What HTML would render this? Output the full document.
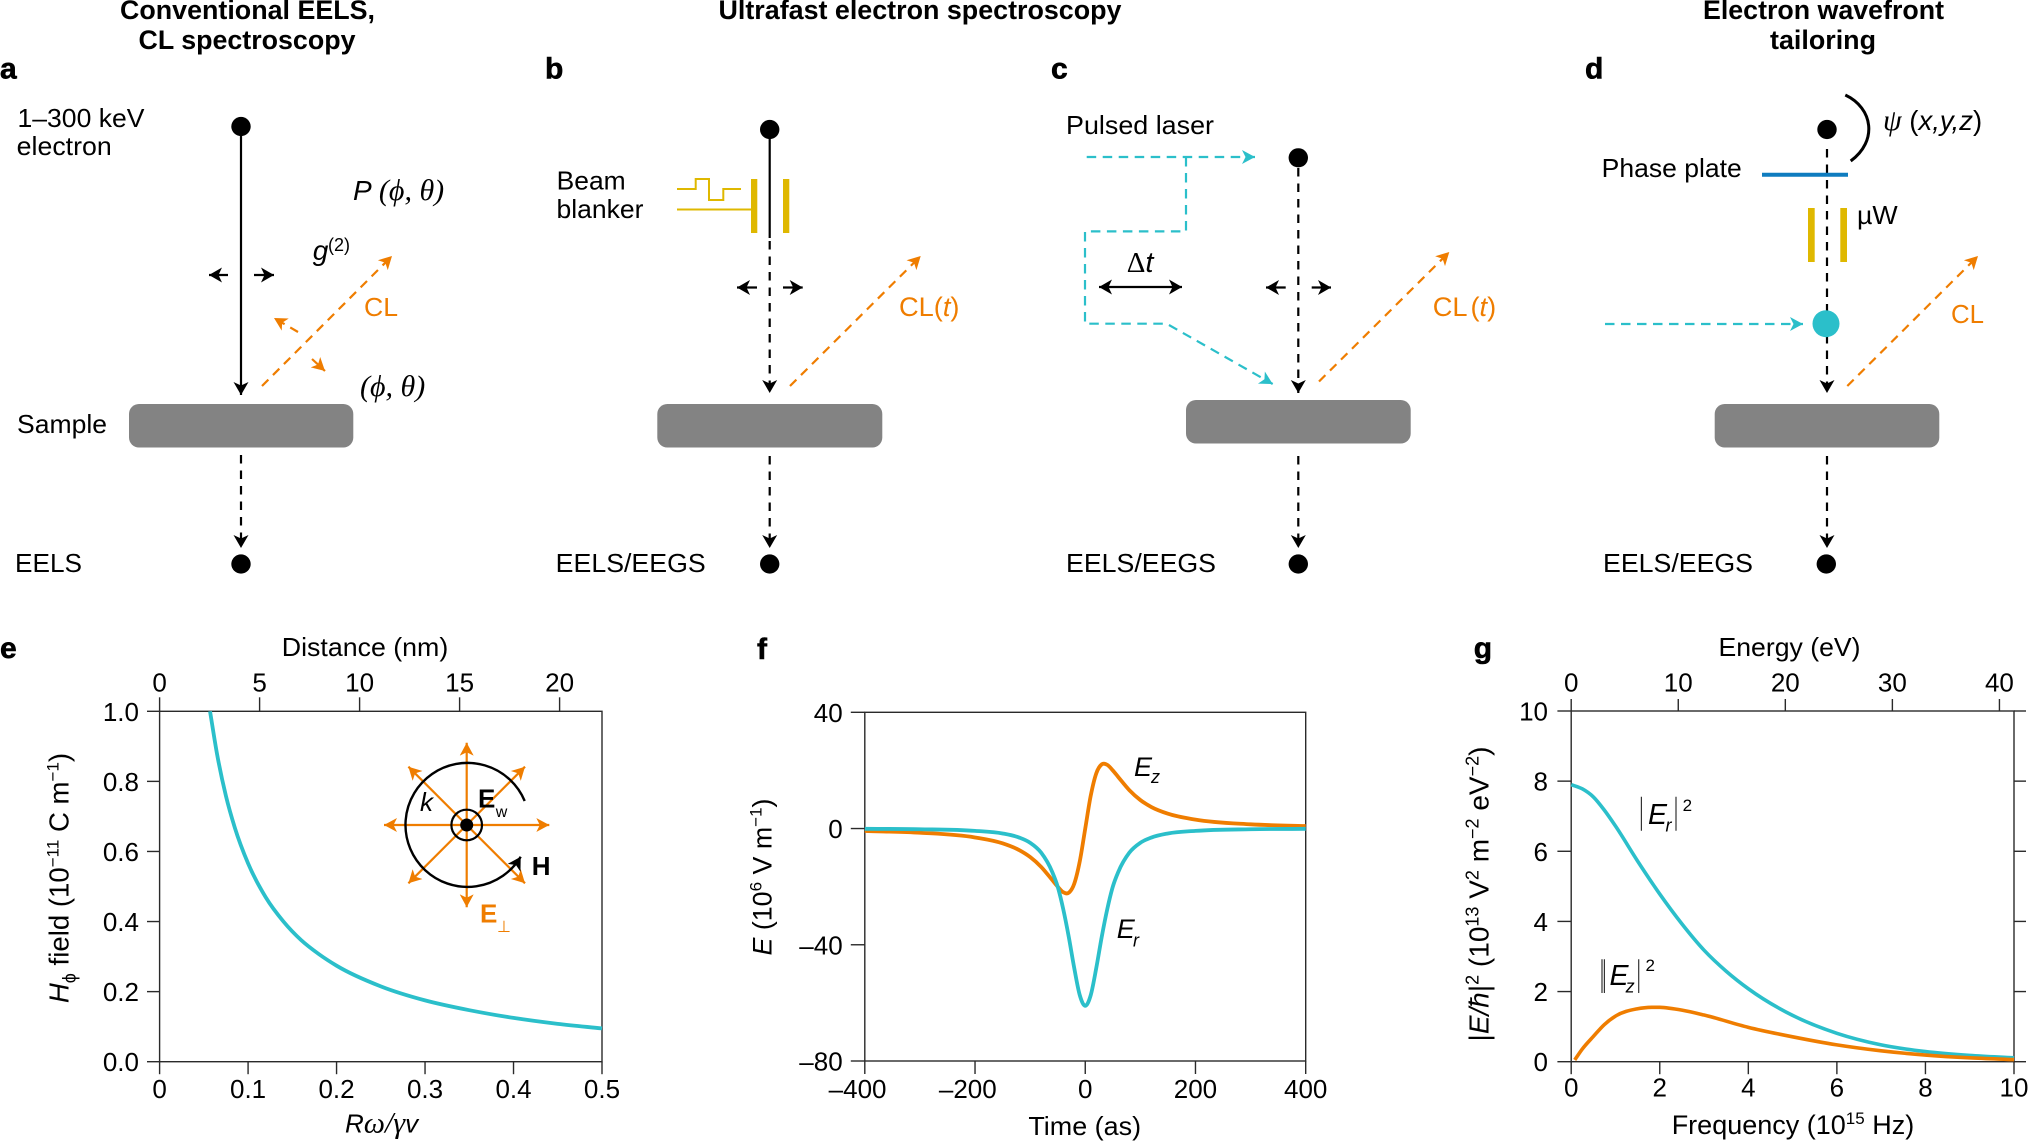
<!DOCTYPE html>
<html lang="en">
<head>
<meta charset="utf-8">
<title>Electron spectroscopy figure</title>
<style>
html,body{margin:0;padding:0;background:#fff;width:2028px;height:1141px;overflow:hidden}
svg{display:block}
text{font-family:"Liberation Sans",sans-serif;font-size:26px;fill:#000}
.ttl{font-weight:bold;font-size:26.5px;text-anchor:middle}
.let{font-weight:bold;font-size:30px;stroke:#000;stroke-width:.6}
.or{fill:#ef7d00}
.it{font-style:italic}
.ser{font-family:"Liberation Serif",serif;font-style:italic;font-size:30px}
.sub{font-size:16px}
.el{stroke:#000;stroke-width:2.2;fill:none}
.dash{stroke-dasharray:8.5 7}
.odash{stroke:#ef7d00;stroke-width:2.2;fill:none;stroke-dasharray:9 6.5}
.cdash{stroke:#2bbfca;stroke-width:2.2;fill:none;stroke-dasharray:9.5 6.5}
.samp{fill:#838383}
.yel{fill:#dfb800}
</style>
</head>
<body>
<svg id="figure" xmlns="http://www.w3.org/2000/svg" width="2028" height="1141" viewBox="0 0 2028 1141">
<defs>
<marker id="ahk" markerUnits="userSpaceOnUse" markerWidth="14" markerHeight="16" refX="13" refY="8" orient="auto-start-reverse"><path d="M13,8 L0,.5 L3.5,8 L0,15.5Z" fill="#000"/></marker>
<marker id="aho" markerUnits="userSpaceOnUse" markerWidth="14" markerHeight="16" refX="13" refY="8" orient="auto-start-reverse"><path d="M13,8 L0,1 L3.5,8 L0,15Z" fill="#ef7d00"/></marker>
<marker id="ahc" markerUnits="userSpaceOnUse" markerWidth="14" markerHeight="16" refX="13" refY="8" orient="auto-start-reverse"><path d="M13,8 L0,1 L3.5,8 L0,15Z" fill="#2bbfca"/></marker>
</defs>

<!-- Panel a -->
<g>
<text class="ttl" x="247.5" y="19" textLength="255" lengthAdjust="spacingAndGlyphs">Conventional EELS,</text>
<text class="ttl" x="247" y="49" textLength="217" lengthAdjust="spacingAndGlyphs">CL spectroscopy</text>
<text class="let" x="0" y="78.5">a</text>
<text x="17.5" y="127" textLength="127" lengthAdjust="spacingAndGlyphs">1–300 keV</text>
<text x="16.7" y="155" textLength="95" lengthAdjust="spacingAndGlyphs">electron</text>
<ellipse cx="241" cy="126.5" rx="9.7" ry="9.6"/>
<line class="el" x1="241" y1="130" x2="241" y2="395" marker-end="url(#ahk)"/>
<line class="el" x1="228" y1="275" x2="209" y2="275" marker-end="url(#ahk)"/>
<line class="el" x1="254" y1="275" x2="274" y2="275" marker-end="url(#ahk)"/>
<text x="353" y="200"><tspan class="it" font-size="28">P</tspan> <tspan class="ser">(ϕ, θ)</tspan></text>
<text x="312.7" y="260" class="it" font-size="28" style="font-size:28px">g</text>
<text x="328" y="251" style="font-size:18px">(2)</text>
<text x="364" y="316" class="or" textLength="34" lengthAdjust="spacingAndGlyphs">CL</text>
<text x="360" y="396" class="ser">(ϕ, θ)</text>
<line class="odash" x1="262" y1="386" x2="392" y2="256" marker-end="url(#aho)"/>
<line class="odash" x1="298" y1="332" x2="274" y2="318" marker-end="url(#aho)"/>
<line class="odash" x1="312" y1="359" x2="325" y2="371" marker-end="url(#aho)"/>
<rect class="samp" x="129" y="404" width="224.3" height="43.5" rx="10"/>
<text x="17" y="433" textLength="90" lengthAdjust="spacingAndGlyphs">Sample</text>
<line class="el dash" x1="241" y1="455" x2="241" y2="548" marker-end="url(#ahk)"/>
<ellipse cx="241" cy="564" rx="9.7" ry="9.6"/>
<text x="15" y="572" textLength="67" lengthAdjust="spacingAndGlyphs">EELS</text>
</g>

<!-- Panel b -->
<g>
<text class="ttl" x="920" y="19" textLength="403" lengthAdjust="spacingAndGlyphs">Ultrafast electron spectroscopy</text>
<text class="let" x="545" y="78.5">b</text>
<ellipse cx="769.7" cy="129.5" rx="9.7" ry="9.6"/>
<line class="el" x1="769.7" y1="133" x2="769.7" y2="238"/>
<line class="el dash" x1="769.7" y1="241" x2="769.7" y2="393" marker-end="url(#ahk)"/>
<rect class="yel" x="751" y="179" width="6.3" height="54"/>
<rect class="yel" x="783" y="179" width="6.3" height="54"/>
<path d="M677,189H695.7V179H709V200H723.3V189H741M677,209.5H751" fill="none" stroke="#dfb800" stroke-width="2"/>
<text x="556.7" y="189.5" textLength="69" lengthAdjust="spacingAndGlyphs">Beam</text>
<text x="556.5" y="218" textLength="87" lengthAdjust="spacingAndGlyphs">blanker</text>
<line class="el" x1="757" y1="287.5" x2="737" y2="287.5" marker-end="url(#ahk)"/>
<line class="el" x1="783" y1="287.5" x2="802.7" y2="287.5" marker-end="url(#ahk)"/>
<line class="odash" x1="790" y1="386" x2="920.7" y2="256" marker-end="url(#aho)"/>
<text x="899" y="316" class="or" style="font-size:27.2px">CL(<tspan class="it">t</tspan>)</text>
<rect class="samp" x="657.3" y="404" width="225" height="43.5" rx="10"/>
<line class="el dash" x1="769.7" y1="456" x2="769.7" y2="548" marker-end="url(#ahk)"/>
<ellipse cx="769.7" cy="564" rx="9.7" ry="9.6"/>
<text x="555.7" y="572" textLength="150" lengthAdjust="spacingAndGlyphs">EELS/EEGS</text>
</g>

<!-- Panel c -->
<g>
<text class="let" x="1051" y="78.5">c</text>
<text x="1066" y="134" textLength="148" lengthAdjust="spacingAndGlyphs">Pulsed laser</text>
<ellipse cx="1298.3" cy="157.8" rx="9.7" ry="9.6"/>
<line class="el dash" x1="1298.3" y1="168" x2="1298.3" y2="393" marker-end="url(#ahk)"/>
<line class="cdash" x1="1086.7" y1="157" x2="1255" y2="157" marker-end="url(#ahc)"/>
<path class="cdash" d="M1186,157V231.4H1085V323.7H1166.7L1272.7,384" marker-end="url(#ahc)"/>
<text x="1126.7" y="272" style="font-size:29px"><tspan font-family="Liberation Serif">Δ</tspan><tspan class="it">t</tspan></text>
<line class="el" x1="1099" y1="287" x2="1182" y2="287" marker-start="url(#ahk)" marker-end="url(#ahk)"/>
<line class="el" x1="1285.7" y1="287.5" x2="1266" y2="287.5" marker-end="url(#ahk)"/>
<line class="el" x1="1311.7" y1="287.5" x2="1331" y2="287.5" marker-end="url(#ahk)"/>
<line class="odash" x1="1319" y1="381.5" x2="1449.3" y2="252" marker-end="url(#aho)"/>
<text x="1432.7" y="316" class="or" style="font-size:27.2px">CL<tspan dx="3">(</tspan><tspan class="it">t</tspan>)</text>
<rect class="samp" x="1186" y="400" width="224.7" height="43.5" rx="10"/>
<line class="el dash" x1="1298.3" y1="456" x2="1298.3" y2="548" marker-end="url(#ahk)"/>
<ellipse cx="1298.3" cy="564" rx="9.7" ry="9.6"/>
<text x="1066" y="572" textLength="150" lengthAdjust="spacingAndGlyphs">EELS/EEGS</text>
</g>

<!-- Panel d -->
<g>
<text class="ttl" x="1823.5" y="19" textLength="241" lengthAdjust="spacingAndGlyphs">Electron wavefront</text>
<text class="ttl" x="1823" y="49" textLength="106" lengthAdjust="spacingAndGlyphs">tailoring</text>
<text class="let" x="1585" y="78.5">d</text>
<ellipse cx="1827" cy="129.5" rx="9.7" ry="9.6"/>
<line class="el dash" x1="1827" y1="149" x2="1827" y2="393" marker-end="url(#ahk)"/>
<path d="M1845.3,95C1873,108 1878,141 1850.7,161" fill="none" stroke="#000" stroke-width="3"/>
<text x="1883" y="130" style="font-size:27.5px"><tspan class="ser">ψ</tspan> <tspan>(</tspan><tspan class="it">x,y,z</tspan>)</text>
<text x="1601.7" y="177" textLength="140" lengthAdjust="spacingAndGlyphs">Phase plate</text>
<line x1="1762" y1="174.7" x2="1848" y2="174.7" stroke="#0f7cbf" stroke-width="4"/>
<rect class="yel" x="1808" y="208" width="6.7" height="54"/>
<rect class="yel" x="1840.3" y="208" width="6.7" height="54"/>
<text x="1857" y="224" textLength="40.7" lengthAdjust="spacingAndGlyphs">µW</text>
<line class="cdash" x1="1605" y1="324" x2="1803" y2="324" marker-end="url(#ahc)"/>
<ellipse cx="1826" cy="323.7" rx="13.5" ry="13.5" fill="#2bbfca"/>
<line class="odash" x1="1847.3" y1="386" x2="1978" y2="256" marker-end="url(#aho)"/>
<text x="1951" y="323" class="or" textLength="33" lengthAdjust="spacingAndGlyphs">CL</text>
<rect class="samp" x="1714.7" y="404" width="224.6" height="43.5" rx="10"/>
<line class="el dash" x1="1827" y1="456" x2="1827" y2="548" marker-end="url(#ahk)"/>
<ellipse cx="1826.3" cy="564" rx="9.7" ry="9.6"/>
<text x="1603" y="572" textLength="150" lengthAdjust="spacingAndGlyphs">EELS/EEGS</text>
</g>

<!-- Panel e -->
<g id="chart-e">
<text class="let" x="0" y="658">e</text>
<text x="365" y="656" text-anchor="middle" textLength="166.5" lengthAdjust="spacingAndGlyphs">Distance (nm)</text>
<text x="345" y="1132.7"><tspan class="it">R</tspan><tspan class="ser">ω/γ</tspan><tspan class="it">v</tspan></text>
<text transform="translate(68.6,878) rotate(-90)" text-anchor="middle" style="font-size:27.6px"><tspan class="it">H</tspan><tspan style="font-size:18px" dy="7">ϕ</tspan><tspan dy="-7"> field (10</tspan><tspan style="font-size:17px" dy="-10">−11</tspan><tspan dy="10"> C m</tspan><tspan style="font-size:17px" dy="-10">−1</tspan><tspan dy="10">)</tspan></text>
</g>

<!-- Panel e inset -->
<g id="inset-e">
<g stroke="#ef7d00" stroke-width="2.2">
<line x1="466.7" y1="825" x2="466.7" y2="742.7" marker-end="url(#aho)"/>
<line x1="466.7" y1="825" x2="466.7" y2="907.3" marker-end="url(#aho)"/>
<line x1="466.7" y1="825" x2="549.3" y2="825" marker-end="url(#aho)"/>
<line x1="466.7" y1="825" x2="384" y2="825" marker-end="url(#aho)"/>
<line x1="466.7" y1="825" x2="525" y2="766.7" marker-end="url(#aho)"/>
<line x1="466.7" y1="825" x2="408.4" y2="766.7" marker-end="url(#aho)"/>
<line x1="466.7" y1="825" x2="525" y2="883.3" marker-end="url(#aho)"/>
<line x1="466.7" y1="825" x2="408.4" y2="883.3" marker-end="url(#aho)"/>
</g>
<circle cx="466.7" cy="825" r="15.3" fill="none" stroke="#000" stroke-width="2.2"/>
<circle cx="466.7" cy="825" r="6.5"/>
<path d="M524.7,801A62,62 0 1 0 520.7,856.7" fill="none" stroke="#000" stroke-width="2.4" marker-end="url(#ahk)"/>
<text x="478" y="807.7" font-weight="bold">E</text>
<text x="495.7" y="817" class="sub">w</text>
<text x="420" y="811" class="it">k</text>
<text x="531.7" y="875" font-weight="bold">H</text>
<text x="480" y="922.7" font-weight="bold" class="or">E</text>
<text x="497" y="932" class="sub or">⊥</text>
</g>

<!-- Panel f -->
<g id="chart-f">
<text class="let" x="757" y="659">f</text>
<text x="1084.7" y="1135" text-anchor="middle" textLength="112.7" lengthAdjust="spacingAndGlyphs">Time (as)</text>
<text transform="translate(771.5,877) rotate(-90)" text-anchor="middle" style="font-size:26.8px"><tspan class="it">E</tspan> (10<tspan style="font-size:17px" dy="-10">6</tspan><tspan dy="10"> V m</tspan><tspan style="font-size:17px" dy="-10">−1</tspan><tspan dy="10">)</tspan></text>
<text x="1134" y="776" class="it" style="font-size:27px">E</text>
<text x="1151" y="783" class="it" style="font-size:18px">z</text>
<text x="1116.7" y="938" class="it" style="font-size:27px">E</text>
<text x="1133" y="946.7" class="it" style="font-size:18px">r</text>
</g>

<!-- Panel g -->
<g id="chart-g">
<text class="let" x="1473.7" y="658">g</text>
<text x="1789.5" y="656" text-anchor="middle" textLength="142" lengthAdjust="spacingAndGlyphs">Energy (eV)</text>
<text x="1671.7" y="1134" style="font-size:27px">Frequency (10<tspan style="font-size:17px" dy="-10">15</tspan><tspan dy="10"> Hz)</tspan></text>
<text transform="translate(1488.7,894) rotate(-90)" text-anchor="middle" style="font-size:28px">|<tspan class="it">E/ħ</tspan>|<tspan style="font-size:18px" dy="-10">2</tspan><tspan dy="10"> (10</tspan><tspan style="font-size:18px" dy="-10">13</tspan><tspan dy="10"> V</tspan><tspan style="font-size:18px" dy="-10">2</tspan><tspan dy="10"> m</tspan><tspan style="font-size:18px" dy="-10">−2</tspan><tspan dy="10"> eV</tspan><tspan style="font-size:18px" dy="-10">−2</tspan><tspan dy="10">)</tspan></text>
<path d="M1641.4,796.7V830.7M1676,796.7V830.7M1602,959.3V993M1604.4,959.3V993M1638.7,959.3V993" stroke="#333" stroke-width="1.2" fill="none"/>
<text x="1648" y="824" class="it" style="font-size:28.5px">E</text>
<text x="1665.5" y="831.7" class="it" style="font-size:18px">r</text>
<text x="1682.6" y="811" style="font-size:17px">2</text>
<text x="1609.5" y="985" class="it" style="font-size:28.5px">E</text>
<text x="1625.6" y="992.5" class="it" style="font-size:18px">z</text>
<text x="1645.5" y="971" style="font-size:17px">2</text>
</g>
</svg>

<script>
/* Panel e data */
const eBottomTicks = [0, 0.1, 0.2, 0.3, 0.4, 0.5];
const eBottomLabels = ['0', '0.1', '0.2', '0.3', '0.4', '0.5'];
const eTopTicks = [0, 5, 10, 15, 20];
const eTopLabels = ['0', '5', '10', '15', '20'];
const eLeftTicks = [0, 0.2, 0.4, 0.6, 0.8, 1.0];
const eLeftLabels = ['0.0', '0.2', '0.4', '0.6', '0.8', '1.0'];
const eCurveU = [0.057, 0.065, 0.075, 0.085, 0.1, 0.12, 0.14, 0.16, 0.18, 0.2, 0.25, 0.3, 0.35, 0.4, 0.45, 0.5];
const eCurveH = [1.0, 0.877, 0.758, 0.668, 0.566, 0.469, 0.40, 0.347, 0.307, 0.274, 0.215, 0.175, 0.147, 0.125, 0.108, 0.095];

/* Panel f data */
const fBottomTicks = [-400, -200, 0, 200, 400];
const fBottomLabels = ['–400', '–200', '0', '200', '400'];
const fLeftTicks = [-80, -40, 0, 40];
const fLeftLabels = ['–80', '–40', '0', '40'];
const fTime = [-400, -300, -200, -150, -120, -100, -80, -60, -50, -40, -30, -20, -10, 0, 10, 20, 30, 40, 50, 60, 80, 100, 120, 150, 200, 300, 400];
const fEr = [-0.1, -0.24, -0.8, -1.7, -3.1, -4.9, -8.3, -14.9, -20, -27.7, -37.2, -48, -57.3, -61, -57.3, -48, -37.2, -27.7, -20, -14.9, -8.3, -4.9, -3.1, -1.7, -0.8, -0.24, -0.1];
const fEz = [-0.85, -1.45, -3.07, -5.1, -7.4, -9.8, -13.2, -17.7, -20, -21.9, -22.1, -19, -11.35, 0, 11.35, 19, 22.1, 21.9, 20, 17.7, 13.2, 9.8, 7.4, 5.1, 3.07, 1.45, 0.85];

/* Panel g data */
const gBottomTicks = [0, 2, 4, 6, 8, 10];
const gBottomLabels = ['0', '2', '4', '6', '8', '10'];
const gTopTicks = [0, 10, 20, 30, 40];
const gTopLabels = ['0', '10', '20', '30', '40'];
const gLeftTicks = [0, 2, 4, 6, 8, 10];
const gLeftLabels = ['0', '2', '4', '6', '8', '10'];
const gFreq = [0, 0.25, 0.5, 0.75, 1, 1.5, 2, 2.5, 3, 3.5, 4, 5, 6, 7, 8, 9, 10];
const gEr = [7.9, 7.78, 7.55, 7.17, 6.72, 5.72, 4.78, 3.93, 3.18, 2.58, 2.08, 1.32, 0.81, 0.48, 0.29, 0.18, 0.11];
const gFreqZ = [0.08, 0.25, 0.5, 0.75, 1, 1.5, 2, 2.5, 3, 4, 5, 6, 7, 8, 9, 10];
const gEz = [0.05, 0.36, 0.72, 1.06, 1.3, 1.51, 1.55, 1.47, 1.33, 0.98, 0.71, 0.48, 0.31, 0.19, 0.11, 0.06];

const NS = 'http://www.w3.org/2000/svg';

function make(tag, attrs, parent, text) {
  const el = document.createElementNS(NS, tag);
  for (const k in attrs) el.setAttribute(k, attrs[k]);
  if (text !== undefined) el.textContent = text;
  parent.appendChild(el);
  return el;
}

function linear(d0, d1, r0, r1) {
  return function (v) { return r0 + (v - d0) * (r1 - r0) / (d1 - d0); };
}

function smoothPath(xs, ys, sx, sy) {
  const px = xs.map(function (x) { return sx(x); });
  const py = ys.map(function (y) { return sy(y); });
  const n = px.length;
  const slope = [];
  for (let i = 0; i < n; i++) {
    if (i === 0) {
      slope.push((py[1] - py[0]) / (px[1] - px[0]));
    } else if (i === n - 1) {
      slope.push((py[i] - py[i - 1]) / (px[i] - px[i - 1]));
    } else {
      const h0 = px[i] - px[i - 1], h1 = px[i + 1] - px[i];
      const d0 = (py[i] - py[i - 1]) / h0, d1 = (py[i + 1] - py[i]) / h1;
      slope.push((h1 * d0 + h0 * d1) / (h0 + h1));
    }
  }
  let d = 'M' + px[0].toFixed(2) + ',' + py[0].toFixed(2);
  for (let i = 0; i < n - 1; i++) {
    const h = (px[i + 1] - px[i]) / 3;
    d += 'C' + (px[i] + h).toFixed(2) + ',' + (py[i] + slope[i] * h).toFixed(2) + ' ' +
      (px[i + 1] - h).toFixed(2) + ',' + (py[i + 1] - slope[i + 1] * h).toFixed(2) + ' ' +
      px[i + 1].toFixed(2) + ',' + py[i + 1].toFixed(2);
  }
  return d;
}

function drawFrame(parent, left, right, top, bottom) {
  const frame = make('rect', { x: left, y: top, width: right - left, height: bottom - top, fill: 'none', stroke: '#2a2a2a', 'stroke-width': 1.4 }, parent);
  
  
}

function drawBottomAxis(parent, ticks, labels, sx, bottom, len, baseline) {
  ticks.forEach(function (t, i) {
    const x = sx(t);
    const tick = make('line', { x1: x, y1: bottom, x2: x, y2: bottom + len, stroke: '#2a2a2a', 'stroke-width': 1.4 }, parent);
    
    
    const shift = labels[i].charAt(0) === '–' ? -7.2 : 0;
    const label = make('text', { x: x + shift, y: baseline, 'text-anchor': 'middle' }, parent, labels[i]);
    
    
  });
}

function drawTopAxis(parent, ticks, labels, sx, top, len, baseline) {
  ticks.forEach(function (t, i) {
    const x = sx(t);
    const tick = make('line', { x1: x, y1: top, x2: x, y2: top - len, stroke: '#2a2a2a', 'stroke-width': 1.4 }, parent);
    
    
    const label = make('text', { x: x, y: baseline, 'text-anchor': 'middle' }, parent, labels[i]);
    
    
  });
}

function drawLeftAxis(parent, ticks, labels, sy, left, len, labelRight) {
  ticks.forEach(function (t, i) {
    const y = sy(t);
    const tick = make('line', { x1: left, y1: y, x2: left - len, y2: y, stroke: '#2a2a2a', 'stroke-width': 1.4 }, parent);
    
    
    const label = make('text', { x: labelRight, y: y + 9.5, 'text-anchor': 'end' }, parent, labels[i]);
    
    
  });
}

function drawRightTicks(parent, ticks, sy, right, len) {
  ticks.forEach(function (t) {
    const y = sy(t);
    const tick = make('line', { x1: right, y1: y, x2: right + len, y2: y, stroke: '#2a2a2a', 'stroke-width': 1.4 }, parent);
    
    
  });
}

/* Chart e */
(function () {
  const g = document.getElementById('chart-e');
  const inset = document.getElementById('inset-e');
  const L = 159.6, R = 602, T = 711.3, B = 1061.7;
  const sx = linear(0, 0.5, L, R);
  const sTop = linear(0, 22.12, L, R);
  const sy = linear(0, 1, B, T);
  drawFrame(g, L, R, T, B);
  drawBottomAxis(g, eBottomTicks, eBottomLabels, sx, B, 12.5, 1098);
  drawTopAxis(g, eTopTicks, eTopLabels, sTop, T, 14, 691.7);
  drawLeftAxis(g, eLeftTicks, eLeftLabels, sy, L, 12.6, 139);
  const curve = make('path', { d: smoothPath(eCurveU, eCurveH, sx, sy), fill: 'none', stroke: '#2bbfca', 'stroke-width': 3.8 }, g);
  
  
  g.appendChild(inset);
})();

/* Chart f */
(function () {
  const g = document.getElementById('chart-f');
  const L = 864.8, R = 1305.7, T = 712.3, B = 1061;
  const sx = linear(-400, 400, L, R);
  const sy = linear(-80, 40, B, T);
  drawFrame(g, L, R, T, B);
  drawBottomAxis(g, fBottomTicks, fBottomLabels, sx, B, 13, 1098);
  drawLeftAxis(g, fLeftTicks, fLeftLabels, sy, L, 14, 842.7);
  const ez = make('path', { d: smoothPath(fTime, fEz, sx, sy), fill: 'none', stroke: '#ef7d00', 'stroke-width': 3.8 }, g);
  
  
  const er = make('path', { d: smoothPath(fTime, fEr, sx, sy), fill: 'none', stroke: '#2bbfca', 'stroke-width': 3.8 }, g);
  
  
})();

/* Chart g */
(function () {
  const g = document.getElementById('chart-g');
  const L = 1571.2, R = 2014, T = 711, B = 1061.7;
  const sx = linear(0, 10, L, R);
  const sTop = linear(0, 41.36, L, R);
  const sy = linear(0, 10, B, T);
  drawFrame(g, L, R, T, B);
  drawBottomAxis(g, gBottomTicks, gBottomLabels, sx, B, 12.5, 1096.7);
  drawTopAxis(g, gTopTicks, gTopLabels, sTop, T, 12, 691.7);
  drawLeftAxis(g, gLeftTicks, gLeftLabels, sy, L, 13.8, 1548);
  drawRightTicks(g, gLeftTicks, sy, R, 12);
  const er = make('path', { d: smoothPath(gFreq, gEr, sx, sy), fill: 'none', stroke: '#2bbfca', 'stroke-width': 3.6 }, g);
  
  
  const ez = make('path', { d: smoothPath(gFreqZ, gEz, sx, sy), fill: 'none', stroke: '#ef7d00', 'stroke-width': 3.6 }, g);
  
  
})();
</script>
</body>
</html>
